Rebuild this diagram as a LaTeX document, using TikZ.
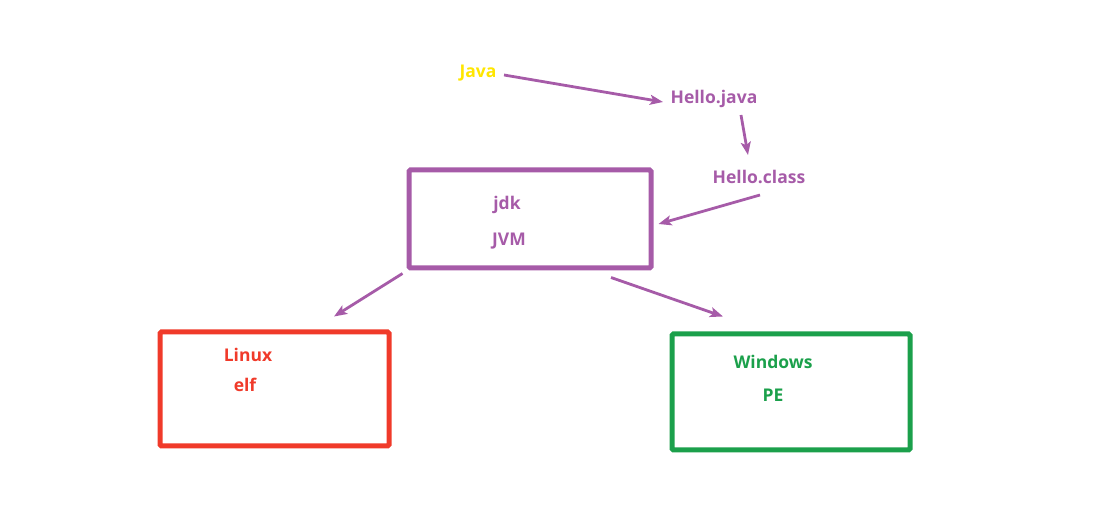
\documentclass[tikz,border=0pt]{standalone}
\usepackage{fontspec}
\setmainfont{Open Sans}
\usetikzlibrary{arrows.meta,calc}
\definecolor{jpurple}{HTML}{A65BA8}
\definecolor{jred}{HTML}{F03A2A}
\definecolor{jgreen}{HTML}{1BA04B}
\definecolor{jyellow}{HTML}{FFE600}
\begin{document}
\begin{tikzpicture}[x=1pt,y=-1pt,
  lbl/.style={font=\fontsize{17.5}{20}\selectfont\bfseries, inner sep=0pt},
  frame/.style={draw, line width=5pt, rounded corners=1.5pt, inner sep=0pt},
  conn/.style={draw=jpurple, line width=2.8pt, -{Stealth[length=13pt,width=10pt,inset=3pt]}}]
\useasboundingbox (0,0) rectangle (1104,510);
% texts
\node[lbl, text=jyellow] (java) at (478,73) {Java};
\node[lbl, text=jpurple] (hjava) at (714,99) {Hello.java};
\node[lbl, text=jpurple] (hclass) at (759,177) {Hello.class};
% boxes
\node[frame, draw=jpurple, minimum width=242pt, minimum height=98pt] (jvmbox) at (530,219) {};
\node[frame, draw=jred, minimum width=229pt, minimum height=114pt] (linbox) at (274.5,389) {};
\node[frame, draw=jgreen, minimum width=238pt, minimum height=116pt] (winbox) at (791,392) {};
\node[lbl, text=jpurple] (jdk) at (507,205) {jdk};
\node[lbl, text=jpurple] (jvm) at (509,241) {JVM};
\node[lbl, text=jred] (linux) at (248,355) {Linux};
\node[lbl, text=jred] (elf) at (245,385) {elf};
\node[lbl, text=jgreen] (windows) at (773,362) {Windows};
\node[lbl, text=jgreen] (pe) at (773,395) {PE};
% connectors
\draw[conn] ($(java.center)+(26,2)$) -- ($(hjava.center)+(-51,3)$);
\draw[conn] ($(hjava.center)+(27,16)$) -- ($(hclass.center)+(-11,-22)$);
\draw[conn] ($(hclass.center)+(1,18)$) -- ($(jvmbox.east)+(5,5)$);
\draw[conn] ($(jvmbox.south west)+(-4,3)$) -- ($(linbox.north)+(59.5,-13)$);
\draw[conn] ($(jvmbox.south)+(81,7)$) -- ($(winbox.north)+(-68,-15)$);
\end{tikzpicture}
\end{document}
